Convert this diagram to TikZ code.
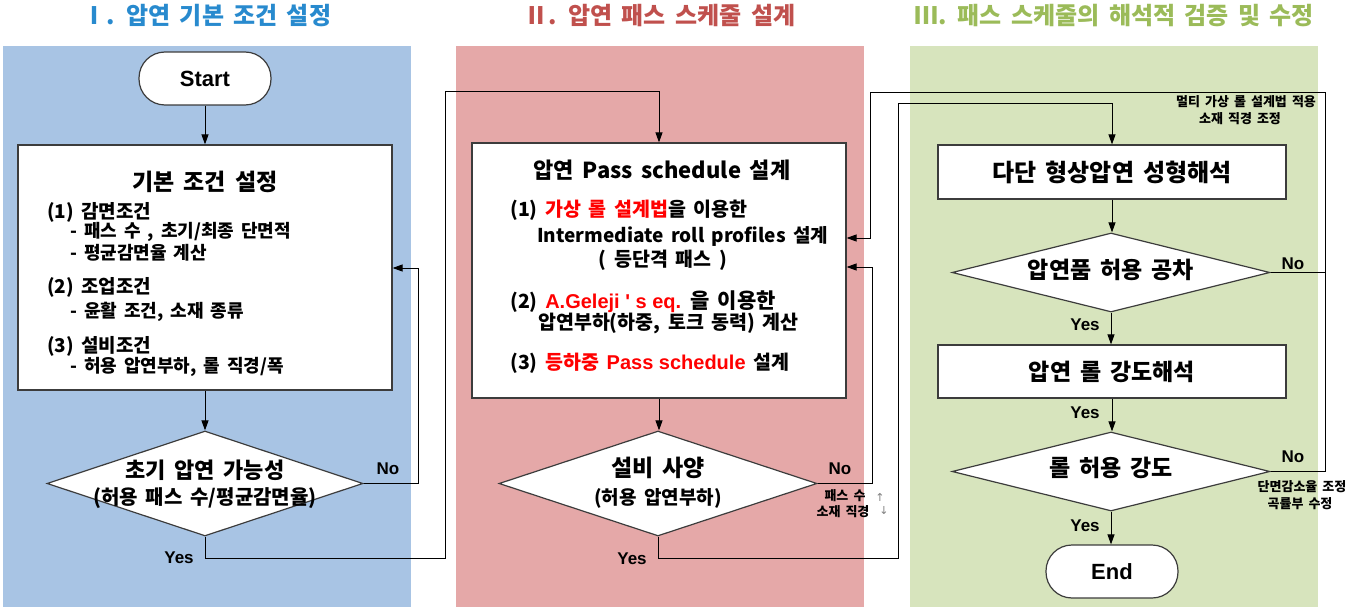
\documentclass[tikz,border=0pt]{standalone}
\usepackage{fontspec}
\setmainfont{Noto Sans CJK KR}[WordSpace=1.7]
\newfontfamily\lat{Liberation Sans}
\newfontfamily\sym{DejaVu Sans}
\usetikzlibrary{shapes.geometric,arrows.meta,calc}
\definecolor{pblue}{RGB}{168,196,228}
\definecolor{pred}{RGB}{229,168,168}
\definecolor{pgreen}{RGB}{215,228,189}
\definecolor{tblue}{RGB}{40,138,206}
\definecolor{tred}{RGB}{192,80,77}
\definecolor{tgreen}{RGB}{155,187,89}
\definecolor{boxc}{RGB}{60,60,60}
\newcommand\fsz[1]{\fontsize{#1}{#1}\selectfont}
\begin{document}
\begin{tikzpicture}[x=1pt,y=-1pt,
  box/.style={draw=boxc, line width=1.2pt, fill=white, inner sep=0pt, rectangle},
  term/.style={box, rounded corners=26pt, minimum width=132pt, minimum height=53pt},
  dia/.style={draw=boxc, line width=1.2pt, fill=white, diamond, inner sep=0pt, aspect=3},
  txt/.style={inner sep=0pt, font=\bfseries},
  yn/.style={inner sep=0pt, font=\lat\bfseries\fsz{17}},
  note/.style={inner sep=0pt, font=\bfseries\fsz{13}, align=center},
  arr/.style={-{Triangle[length=10pt,width=7pt]}, line width=1pt, draw=black},
  ln/.style={line width=1pt, draw=black}]
\useasboundingbox (0,0) rectangle (1358,615);
% panels
\fill[pblue] (3,46) rectangle (411,607);
\fill[pred] (456,46) rectangle (864,607);
\fill[pgreen] (910,46) rectangle (1318,607);
% titles
\node[txt, text=tblue, font=\bfseries\fsz{24}] (t1) at (207,16) {Ⅰ. 압연 기본 조건 설정};
\node[txt, text=tred, font=\bfseries\fsz{24}] (t2) at (660,16) {Ⅱ. 압연 패스 스케줄 설계};
\node[txt, text=tgreen, font=\bfseries\fsz{24}] (t3) at (1114,16) {Ⅲ. 패스 스케줄의 해석적 검증 및 수정};

% ---------- Panel I ----------
\node[term] (start) at (205,78.5) {};
\node[txt, font=\lat\bfseries\fsz{22}] (startt) at (start.center) {Start};
\node[box, minimum width=374pt, minimum height=245pt] (box1) at (205,267.5) {};
\node[txt, font=\bfseries\fsz{23}] (b1t) at (205,182) {기본 조건 설정};
\node[txt, font=\bfseries\fsz{19}, anchor=west] (b1a) at (47,212) {(1) 감면조건};
\node[txt, font=\bfseries\fsz{18}, anchor=west] (b1a1) at (70,232) {- 패스 수 , 초기/최종 단면적};
\node[txt, font=\bfseries\fsz{18}, anchor=west] (b1a2) at (70,253) {- 평균감면율 계산};
\node[txt, font=\bfseries\fsz{19}, anchor=west] (b1b) at (47,287) {(2) 조업조건};
\node[txt, font=\bfseries\fsz{18}, anchor=west] (b1b1) at (70,312) {- 윤활 조건, 소재 종류};
\node[txt, font=\bfseries\fsz{19}, anchor=west] (b1c) at (47,346) {(3) 설비조건};
\node[txt, font=\bfseries\fsz{18}, anchor=west] (b1c1) at (70,367) {- 허용 압연부하, 롤 직경/폭};
\node[dia, minimum width=316pt, minimum height=105pt] (d1) at (205,483.5) {};
\node[txt, font=\bfseries\fsz{22}] (d1a) at (205,470) {초기 압연 가능성};
\node[txt, font=\bfseries\fsz{20}] (d1b) at (205,498) {(허용 패스 수/평균감면율)};
\node[yn] (d1no) at (388,469) {No};
\node[yn] (d1yes) at (179,558) {Yes};

% ---------- Panel II ----------
\node[box, minimum width=374pt, minimum height=255pt] (box2) at (659,270.5) {};
\node[txt, font=\bfseries\fsz{22}] (b2t) at (662,170) {압연 Pass schedule 설계};
\node[txt, font=\bfseries\fsz{19.5}, anchor=west] (b2a) at (510,210) {(1) {\color{red}가상 롤 설계법}을 이용한};
\node[txt, font=\bfseries\fsz{19}, anchor=west] (b2a1) at (537,236) {Intermediate roll profiles 설계};
\node[txt, font=\bfseries\fsz{19.5}] (b2a2) at (663,260) {( 등단격 패스 )};
\node[txt, font=\bfseries\fsz{19.5}, anchor=west] (b2b) at (510,302) {(2) {\color{red}\lat\bfseries\fsz{20}A.Geleji ' s eq.} {\fsz{21}을 이용한}};
\node[txt, font=\bfseries\fsz{19.5}, anchor=west] (b2b1) at (538,323) {압연부하(하중, 토크 동력) 계산};
\node[txt, font=\bfseries\fsz{19.5}, anchor=west] (b2c) at (510,363) {(3) {\color{red}등하중 {\lat\bfseries\fsz{20}Pass schedule}} 설계};
\node[dia, minimum width=318pt, minimum height=105pt] (d2) at (658,483.5) {};
\node[txt, font=\bfseries\fsz{23}] (d2a) at (658,468) {설비 사양};
\node[txt, font=\bfseries\fsz{19}] (d2b) at (658,498) {(허용 압연부하)};
\node[yn] (d2no) at (840,469) {No};
\node[yn] (d2yes) at (632,559) {Yes};
\node[note] (n2a) at (845,496) {패스 수};
\node[note] (n2b) at (843,512) {소재 직경};
\node[inner sep=0pt, font=\sym\fsz{11}, text=gray] (up) at (880,497) {↑};
\node[inner sep=0pt, font=\sym\fsz{11}, text=gray] (dn) at (884,511) {↓};

% ---------- Panel III ----------
\node[box, minimum width=348pt, minimum height=54pt] (box3) at (1112,172) {};
\node[txt, font=\bfseries\fsz{24}] (b3t) at (box3.center) {다단 형상압연 성형해석};
\node[dia, minimum width=318pt, minimum height=79pt] (d3) at (1111,272.5) {};
\node[txt, font=\bfseries\fsz{23}] (d3t) at (1111,270) {압연품 허용 공차};
\node[box, minimum width=348pt, minimum height=53pt] (box4) at (1112,371.5) {};
\node[txt, font=\bfseries\fsz{23}] (b4t) at (box4.center) {압연 롤 강도해석};
\node[dia, minimum width=318pt, minimum height=79pt] (d4) at (1111,471.5) {};
\node[txt, font=\bfseries\fsz{23}] (d4t) at (1111,468) {롤 허용 강도};
\node[term] (end) at (1112,571.5) {};
\node[txt, font=\lat\bfseries\fsz{22}] (endt) at (end.center) {End};
\node[yn] (d3no) at (1293,264) {No};
\node[yn] (d3yes) at (1085,325) {Yes};
\node[yn] (b4yes) at (1085,413) {Yes};
\node[yn] (d4no) at (1293,457) {No};
\node[yn] (d4yes) at (1085,526) {Yes};
\node[note] (n3a) at (1246,102) {멀티 가상 롤 설계법 적용};
\node[note] (n3b) at (1240,119) {소재 직경 조정};
\node[note] (n4a) at (1302,487) {단면감소율 조정};
\node[note] (n4b) at (1300,504) {곡률부 수정};

% ---------- connectors ----------
\coordinate (k1) at (418,268);
\coordinate (y1a) at (445,558);
\coordinate (y1b) at (445,92);
\coordinate (k2) at (872,267);
\coordinate (y2a) at (898,558);
\coordinate (y2b) at (898,104);
\coordinate (rt) at (1325,93);
\coordinate (lt) at (870,93);
\coordinate (lt2) at (870,238);

\draw[arr] (start) -- (box1);
\draw[arr] (box1) -- (d1);
\draw[arr] (d1.east) -| (k1) -- (k1 -| box1.east);
\draw[arr] (d1.south) |- (y1a) -- (y1b) -| (box2.north);

\draw[arr] (box2) -- (box2.south |- d2.north);
\draw[arr] (d2.east) -| (k2) -- (k2 -| box2.east);
\draw[arr] (d2.south) |- (y2a) -- (y2b) -| (box3.north);

\draw[arr] (box3) -- (box3.south |- d3.north);
\draw[arr] (d3.south) -- (d3.south |- box4.north);
\draw[arr] (box4) -- (box4.south |- d4.north);
\draw[arr] (d4.south) -- (d4.south |- end.north);
\draw[ln] (d3.east) -- (d3.east -| rt);
\draw[arr] (d4.east) -| (rt) -- (lt) -- (lt2) -- (lt2 -| box2.east);
\end{tikzpicture}
\end{document}
